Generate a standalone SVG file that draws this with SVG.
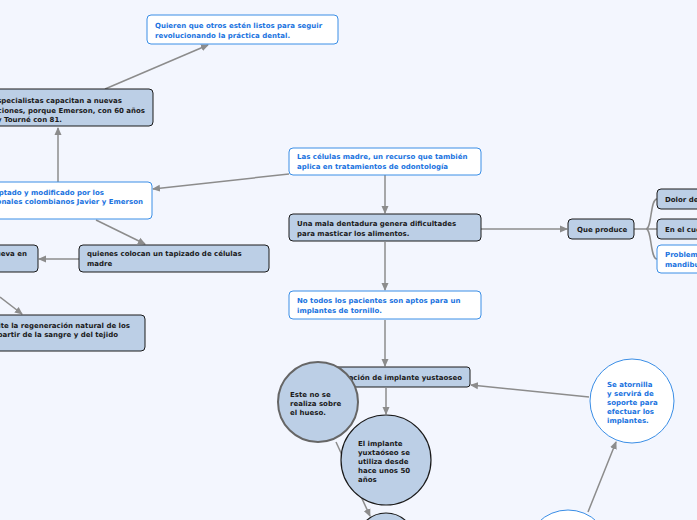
<svg xmlns="http://www.w3.org/2000/svg" width="697" height="520" viewBox="0 0 697 520">
<style>
text{font-family:"DejaVu Sans",Verdana,sans-serif;font-size:7px;font-weight:bold}
.d{fill:#bccfe6;stroke:#1a1a1a;stroke-width:1}
.w{fill:#fff;stroke:#3a8ee6;stroke-width:1}
.dt{fill:#1a1a1a}
.bt{fill:#1a73e0}
.e{text-anchor:end}
.c{fill:none;stroke:#8c8c8c;stroke-width:1.5}
.cir{fill:#bccfe6;stroke:#1a1a1a;stroke-width:1.2}
</style>
<defs><marker id="a" markerWidth="8" markerHeight="8" refX="7" refY="4" orient="auto" markerUnits="userSpaceOnUse"><path d="M0,0.5 L8,4 L0,7.5z" fill="#8c8c8c"/></marker></defs>
<rect width="697" height="520" fill="#f3f6fe"/>
<g id="connectors">
<path class="c" d="M105,89 L208,45" marker-end="url(#a)"/>
<path class="c" d="M58,182 L58,128" marker-end="url(#a)"/>
<path class="c" d="M289,174 L153,189" marker-end="url(#a)"/>
<path class="c" d="M96,220 L145,244" marker-end="url(#a)"/>
<path class="c" d="M79,259 L39,259" marker-end="url(#a)"/>
<path class="c" d="M0,297 L22,314" marker-end="url(#a)"/>
<path class="c" d="M385,175 L385,213" marker-end="url(#a)"/>
<path class="c" d="M481,229 L567,229" marker-end="url(#a)"/>
<path class="c" d="M385,242 L385,290" marker-end="url(#a)"/>
<path class="c" d="M385,320 L385,366" marker-end="url(#a)"/>
<path class="c" d="M386,388 L386,414" marker-end="url(#a)"/>
<path class="c" d="M336,442 L370,516" marker-end="url(#a)"/>
<path class="c" d="M589,397 L471,385" marker-end="url(#a)"/>
<path class="c" d="M588,512 L616,442" marker-end="url(#a)"/>
<path class="c" d="M634,229 L646,229 C652,229 650,199 657,199 M646,229 L657,229 M646,229 C652,229 650,259 657,259"/>
</g>
<g id="n1"><rect class="w" x="147" y="15" width="191" height="29" rx="4"/><text class="bt" x="155" y="28">Quieren que otros estén listos para seguir</text><text class="bt" x="155" y="38">revolucionando la práctica dental.</text></g>
<g id="n2"><rect class="d" x="-10" y="89" width="163" height="37" rx="4"/><text class="dt e" x="122" y="103">Especialistas capacitan a nuevas</text><text class="dt e" x="145" y="112.5">generaciones, porque Emerson, con 60 años</text><text class="dt e" x="62" y="122">y Tourné con 81.</text></g>
<g id="n3"><rect class="w" x="289" y="148" width="192" height="27" rx="4"/><text class="bt" x="297" y="159">Las células madre, un recurso que también</text><text class="bt" x="297" y="169">aplica en tratamientos de odontología</text></g>
<g id="n4"><rect class="w" x="-10" y="182" width="162" height="37" rx="4"/><text class="bt e" x="104" y="195">adaptado y modificado por los</text><text class="bt e" x="143" y="204">profesionales colombianos Javier y Emerson</text></g>
<g id="n5"><rect class="d" x="79" y="245" width="190" height="27" rx="4"/><text class="dt" x="87" y="256">quienes colocan un tapizado de células</text><text class="dt" x="87" y="266">madre</text></g>
<g id="n6"><rect class="d" x="-10" y="245" width="48" height="27" rx="4"/><text class="dt e" x="27" y="256">se renueva en</text></g>
<g id="n7"><rect class="d" x="-10" y="315" width="155" height="36" rx="4"/><text class="dt e" x="130" y="328">permite la regeneración natural de los</text><text class="dt e" x="118" y="337">a partir de la sangre y del tejido</text></g>
<g id="n8"><rect class="d" x="289" y="214" width="192" height="27" rx="4"/><text class="dt" x="297" y="226">Una mala dentadura genera dificultades</text><text class="dt" x="297" y="236">para masticar los alimentos.</text></g>
<g id="n9"><rect class="d" x="568" y="219" width="66" height="20" rx="4"/><text class="dt" x="577" y="232">Que produce</text></g>
<g id="n10"><rect class="d" x="657" y="189" width="50" height="20" rx="4"/><text class="dt" x="665" y="202">Dolor de</text></g>
<g id="n11"><rect class="d" x="657" y="219" width="50" height="20" rx="4"/><text class="dt" x="665" y="232">En el cuello</text></g>
<g id="n12"><rect class="w" x="657" y="245" width="50" height="28" rx="4"/><text class="bt" x="665" y="257">Problemas</text><text class="bt" x="665" y="267">mandibulares</text></g>
<g id="n13"><rect class="w" x="289" y="291" width="192" height="28" rx="4"/><text class="bt" x="297" y="303">No todos los pacientes son aptos para un</text><text class="bt" x="297" y="313">implantes de tornillo.</text></g>
<g id="n14"><rect class="d" x="330" y="367" width="140" height="20" rx="3"/><text class="dt e" x="462" y="380">Colocación de implante yustaoseo</text></g>
<g id="n15"><circle cx="318" cy="402" r="40" fill="#bccfe6" stroke="#666" stroke-width="2"/><text class="dt" x="290" y="397">Este no se</text><text class="dt" x="290" y="406">realiza sobre</text><text class="dt" x="290" y="415">el hueso.</text></g>
<g id="n16"><circle class="cir" cx="386" cy="460" r="45"/><text class="dt" x="358" y="446">El implante</text><text class="dt" x="358" y="455">yuxtaóseo se</text><text class="dt" x="358" y="464">utiliza desde</text><text class="dt" x="358" y="473">hace unos 50</text><text class="dt" x="358" y="482">años</text></g>
<g id="n17"><circle class="cir" cx="386" cy="542" r="29"/></g>
<g id="n18"><circle class="w" cx="632" cy="401" r="42"/><text class="bt" x="607" y="387">Se atornilla</text><text class="bt" x="607" y="396">y servirá de</text><text class="bt" x="607" y="405">soporte para</text><text class="bt" x="607" y="414">efectuar los</text><text class="bt" x="607" y="423">implantes.</text></g>
<g id="n19"><circle class="w" cx="568" cy="552" r="42"/></g>
</svg>
